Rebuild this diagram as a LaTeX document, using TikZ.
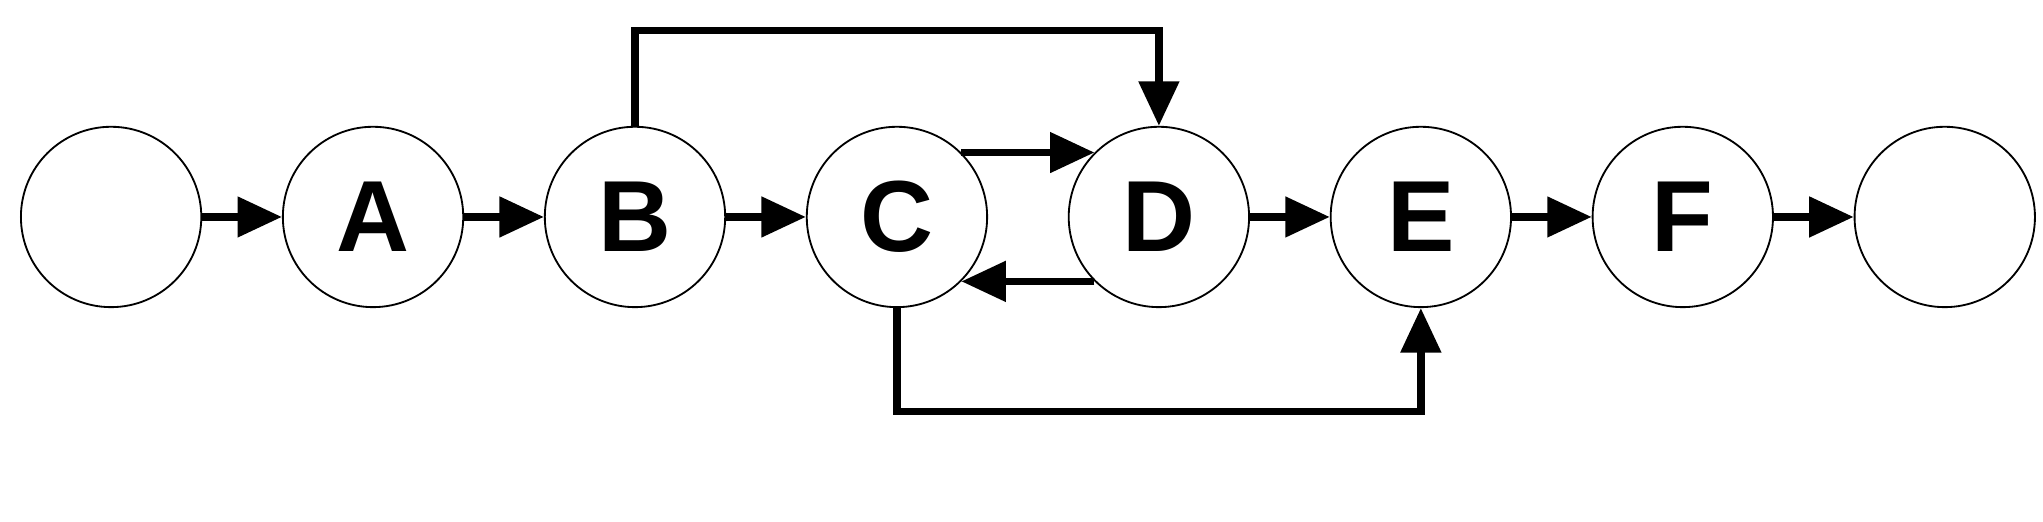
\documentclass[tikz,border=0pt]{standalone}
\usepackage{fontspec}
\setmainfont{Liberation Sans}
\usetikzlibrary{positioning}
\usetikzlibrary{arrows.meta}

\begin{document}
\begin{tikzpicture}[
        state/.style={circle, draw, thin, minimum size=1.38cm, inner sep=0pt,
            font=\fontsize{22}{24}\selectfont\bfseries},
        flow/.style={line width=1.6pt, -{Triangle[length=0.34cm, width=0.3cm]}},
        node distance=0.61cm]
        \useasboundingbox (0,0) rectangle (15.63,3.99);
        % states
        \node[state] (start) at (0.85,2.33) {};
        \node[state, right=of start] (A) {A};
        \node[state, right=of A] (B) {B};
        \node[state, right=of B] (C) {C};
        \node[state, right=of C] (D) {D};
        \node[state, right=of D] (E) {E};
        \node[state, right=of E] (F) {F};
        \node[state, right=of F] (end) {};
        % transitions
        \draw[flow] (start) -- (A);
        \draw[flow] (A) -- (B);
        \draw[flow] (B) -- (C);
        \draw[flow] (C.45) -- (D.135);
        \draw[flow] (D.-135) -- (C.-45);
        \draw[flow] (D) -- (E);
        \draw[flow] (E) -- (F);
        \draw[flow] (F) -- (end);
        \draw[flow] (B.north) -- ++(0,0.73) -| (D.north);
        \draw[flow] (C.south) -- ++(0,-0.79) -| (E.south);
    \end{tikzpicture}
\end{document}
